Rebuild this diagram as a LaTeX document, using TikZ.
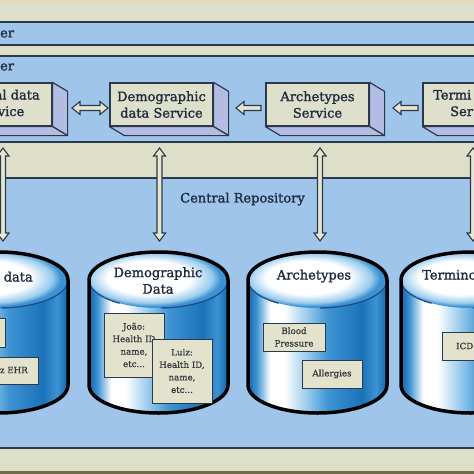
\documentclass[tikz,border=0pt]{standalone}
\usepackage{fontspec}
\setmainfont{DejaVu Serif}
\newfontfamily\slabf{DejaVu Serif}[FakeBold=1.4]
\newfontfamily\noteff{DejaVu Serif}[FakeBold=0.8]
\usetikzlibrary{calc}
\definecolor{bgbeige}{HTML}{DDDFC9}
\definecolor{peach}{HTML}{E9D7B6}
\definecolor{olive}{HTML}{706B4A}
\definecolor{bandblue}{HTML}{9FC5EA}
\definecolor{lineC}{HTML}{2B3A4A}
\definecolor{boxfront}{HTML}{DFE0CC}
\definecolor{boxside}{HTML}{B3BCE3}
\definecolor{textC}{HTML}{1F2B3F}
\definecolor{notefill}{HTML}{E3E3CD}
\definecolor{noteT}{HTML}{35393F}
\definecolor{arrowfill}{HTML}{E6E6D2}
\definecolor{cyldark}{HTML}{1466AA}
\definecolor{cyldarkB}{HTML}{1C72B8}
\definecolor{cylmid}{HTML}{3C92D2}
\definecolor{cyllight}{HTML}{9CCCEE}
\definecolor{arcblue}{HTML}{1F4C8C}
\pgfdeclarehorizontalshading{cylbody}{100bp}{color(0bp)=(cyldark); color(25bp)=(cyldark); color(28bp)=(cylmid); color(33bp)=(white); color(38bp)=(white); color(46bp)=(cyllight); color(54bp)=(cylmid); color(66bp)=(cyldarkB); color(71bp)=(cylmid); color(75bp)=(cyldark); color(100bp)=(cyldark)}
\pgfdeclareradialshading{cyltop}{\pgfpoint{-5bp}{3bp}}{color(0bp)=(white); color(15bp)=(white); color(22bp)=(cyllight); color(25bp)=(cylmid); color(50bp)=(cylmid)}
\newcommand\bigf{\slabf\fontsize{13}{16.5}\selectfont}
\newcommand\smallf{\noteff\fontsize{8.7}{12.5}\selectfont}
% fat hollow arrows: horizontal double, horizontal left, vertical double
\newcommand\hdarrow[3]{\filldraw[fat] (#1,#3) -- (#1+8,#3-6.5) -- (#1+8,#3-2.5) -- (#2-8,#3-2.5) -- (#2-8,#3-6.5) -- (#2,#3) -- (#2-8,#3+6.5) -- (#2-8,#3+2.5) -- (#1+8,#3+2.5) -- (#1+8,#3+6.5) -- cycle;}
\newcommand\hlarrow[3]{\filldraw[fat] (#1,#3) -- (#1+8,#3-6.5) -- (#1+8,#3-2.5) -- (#2,#3-2.5) -- (#2,#3+2.5) -- (#1+8,#3+2.5) -- (#1+8,#3+6.5) -- cycle;}
\newcommand\vdarrow[3]{\filldraw[fat] (#1,#2) -- (#1+6,#2+8) -- (#1+2.5,#2+8) -- (#1+2.5,#3-8) -- (#1+6,#3-8) -- (#1,#3) -- (#1-6,#3-8) -- (#1-2.5,#3-8) -- (#1-2.5,#2+8) -- (#1-6,#2+8) -- cycle;}
\tikzset{
 band/.style={draw=lineC, line width=1.2pt, fill=bandblue, minimum width=540pt, inner sep=0pt},
 svc/.style={draw=lineC, line width=1.2pt, fill=boxfront, minimum width=103pt, minimum height=43pt, inner sep=0pt, align=center, font=\bigf, text=textC},
 sideface/.style={draw=lineC, line width=1.2pt, fill=boxside, line join=round},
 lbl/.style={inner sep=0pt, font=\bigf, text=textC, align=center},
 note/.style={draw=lineC, line width=1pt, fill=notefill, inner sep=0pt, align=center, font=\smallf, text=noteT},
 notetext/.style={inner sep=0pt, font=\smallf, text=noteT},
 fat/.style={draw=lineC, line width=1.1pt, fill=arrowfill, line join=miter},
}
\begin{document}
\begin{tikzpicture}[x=1pt,y=-1pt]
\useasboundingbox (0,0) rectangle (474,474);
\clip (0,0) rectangle (474,474);
% background
\fill[bgbeige] (-5,-5) rectangle (480,480);
\fill[peach] (-5,-5) rectangle (480,2);
\fill[olive] (-5,471) rectangle (480,480);
% bands
\node[band, minimum height=23pt] (layerA) at (237,33.5) {};
\node[band, minimum height=86pt] (layerB) at (237,99) {};
\node[band, minimum height=270pt] (repo) at (237,313) {};
\node[lbl, anchor=west] (erA) at (0,34) {er};
\node[lbl, anchor=west] (erB) at (0,67) {er};
% service boxes
\foreach \nm/\cx/\txt in {clin/0.5/{}, demo/161.5/{Demographic\\data Service}, arch/317.5/{Archetypes\\Service}, term/474.5/{}}{
  \node[svc] (\nm) at (\cx,104.5) {\txt};
  \filldraw[sideface] (\nm.north east) -- ++(15,9) -- ($(\nm.south east)+(15,9)$) -- (\nm.south east) -- cycle;
  \filldraw[sideface] (\nm.south west) -- ++(15,9) -- ($(\nm.south east)+(15,9)$) -- (\nm.south east) -- cycle;
}
\node[lbl, anchor=base east] (clinA) at (40,99.5) {al data};
\node[lbl, anchor=base east] (clinB) at (24.5,116) {vice};
\node[lbl, anchor=base west] (termA) at (433,99.5) {Termi};
\node[lbl, anchor=base west] (termB) at (450,116) {Ser};
% horizontal arrows
\hdarrow{72}{108}{108}
\hlarrow{236}{261}{108}
\hlarrow{393}{418}{108}
% vertical arrows
\foreach \cx in {3, 159.5, 320, 473}{\vdarrow{\cx}{148}{241}}
\node[lbl] (repoT) at (242.5,199) {Central Repository};
% cylinders
\foreach \cx in {-1.5, 158.5, 317.5, 470.5}{
  \shade[shading=cylbody] (\cx-69.5,280) -- (\cx-69.5,385) arc[start angle=180,end angle=0,x radius=69.5,y radius=28] -- (\cx+69.5,280) -- cycle;
  \shade[shading=cyltop] (\cx,280) ellipse[x radius=69.5, y radius=28];
  \draw[arcblue, line width=1.3pt] (\cx-69.5,280) arc[start angle=180,end angle=124,x radius=69.5,y radius=28];
  \draw[arcblue, line width=1.3pt] ($(\cx,280)+(88:69.5 and 28)$) arc[start angle=88,end angle=0,x radius=69.5,y radius=28];
  \draw[black, line width=3.5pt] (\cx-69.5,280) arc[start angle=180,end angle=360,x radius=69.5,y radius=28] -- (\cx+69.5,385) arc[start angle=0,end angle=180,x radius=69.5,y radius=28] -- cycle;
}
\node[lbl, anchor=base east] (c1T) at (33,281.5) {l data};
\node[lbl] (c2T) at (158,280.5) {Demographic\\Data};
\node[lbl, anchor=base] (c3T) at (314,279.5) {Archetypes};
\node[lbl, anchor=base west] (c4T) at (422,279.5) {Termino};
% notes
\node[note, minimum width=35pt, minimum height=29pt] (n1) at (-12.5,332.5) {};
\node[note, minimum width=78pt, minimum height=27pt] (n2) at (-1,370.5) {};
\node[notetext, anchor=east] (n2T) at (28,370) {iz EHR};
\node[note, minimum width=60pt, minimum height=64pt] (joao) at (134,345) {João:\\Health ID\\name,\\etc...};
\node[note, minimum width=60pt, minimum height=64pt] (luiz) at (182,371) {Luiz:\\Health ID,\\name,\\etc...};
\node[note, minimum width=62pt, minimum height=28pt] (bp) at (294,337) {Blood\\Pressure};
\node[note, minimum width=60pt, minimum height=28pt] (all) at (332,374) {Allergies};
\node[note, minimum width=68pt, minimum height=28pt] (icd) at (476,346) {};
\node[notetext, anchor=west] (icdT) at (456,346) {ICD};
\end{tikzpicture}
\end{document}
